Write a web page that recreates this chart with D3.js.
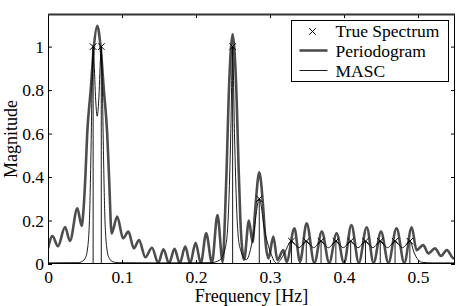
<!DOCTYPE html>
<html>
<head>
<meta charset="utf-8">
<script src="https://cdn.jsdelivr.net/npm/d3@7"></script>
<style>
  body { margin: 0; background: #fff; }
  svg text { font-family: "Liberation Serif", "Times New Roman", Times, "DejaVu Serif", serif; }
</style>
</head>
<body>
<div id="chart"></div>
<script>
// true spectrum (stems with x markers)
const trueFreq = [0.061, 0.072, 0.2495, 0.2855, 0.329, 0.349, 0.369, 0.389, 0.409, 0.429, 0.449, 0.469, 0.489];
const trueMag = [1.0, 1.0, 1.0, 0.3, 0.105, 0.105, 0.105, 0.105, 0.105, 0.105, 0.105, 0.105, 0.105];

const periodogramFreq = [0, 0.006, 0.0135, 0.023, 0.0297, 0.0396, 0.0455, 0.048, 0.0505, 0.053, 0.0577, 0.062, 0.0666,
  0.071, 0.0755, 0.080, 0.0825, 0.086, 0.0935, 0.1015, 0.1086, 0.116, 0.123, 0.1315, 0.1405, 0.149, 0.156, 0.1635,
  0.171, 0.178, 0.1855, 0.192, 0.1995, 0.2065, 0.2138, 0.2215, 0.229, 0.236, 0.239, 0.2415, 0.244, 0.247, 0.2495,
  0.252, 0.255, 0.2575, 0.26, 0.263, 0.265, 0.2715, 0.2765, 0.28, 0.2855, 0.291, 0.294, 0.298, 0.3045, 0.310, 0.318,
  0.3225, 0.333, 0.3405, 0.3495, 0.36, 0.37, 0.38, 0.39, 0.40, 0.41, 0.42, 0.4307, 0.44, 0.45, 0.46, 0.471, 0.4815,
  0.4915, 0.498, 0.507, 0.514, 0.523, 0.531, 0.539, 0.548, 0.55];
const periodogramMag = [0.072, 0.128, 0.082, 0.17, 0.106, 0.256, 0.175, 0.25, 0.4, 0.6, 0.8, 1.0, 1.096,
  1.0, 0.8, 0.6, 0.4, 0.14, 0.218, 0.118, 0.149, 0.072, 0.11, 0.031, 0.075, 0.005, 0.068, 0.003,
  0.07, 0.003, 0.08, 0.003, 0.097, 0.003, 0.141, 0.005, 0.225, 0.01, 0.2, 0.45, 0.75, 0.98, 1.057,
  0.98, 0.75, 0.45, 0.2, 0.05, 0.02, 0.2, 0.1, 0.25, 0.422, 0.25, 0.1, 0.026, 0.126, 0.018, 0.064,
  0.01, 0.164, 0.01, 0.187, 0.005, 0.149, 0.005, 0.141, 0.005, 0.179, 0.005, 0.169, 0.005, 0.149, 0.005, 0.164, 0.005,
  0.169, 0.064, 0.087, 0.049, 0.072, 0.037, 0.064, 0.026, 0.03];

// MASC estimate
const mascFreq = [0, 0.03, 0.04, 0.045, 0.05, 0.053, 0.056, 0.058, 0.06, 0.061, 0.062, 0.0645, 0.0665, 0.0685, 0.071,
  0.072, 0.073, 0.075, 0.077, 0.080, 0.083, 0.088, 0.095, 0.15, 0.22, 0.232, 0.24, 0.244, 0.247, 0.2495, 0.252, 0.255,
  0.259, 0.268, 0.277, 0.2855, 0.293, 0.301, 0.309, 0.318, 0.329, 0.339, 0.349, 0.359, 0.369, 0.379, 0.389, 0.399,
  0.409, 0.419, 0.429, 0.439, 0.449, 0.459, 0.469, 0.479, 0.489, 0.495, 0.5, 0.505, 0.52, 0.55];
const mascMag = [0.005, 0.006, 0.006, 0.01, 0.025, 0.06, 0.2, 0.5, 0.9, 1.0, 0.95, 0.75, 0.68, 0.75, 0.95,
  1.0, 0.9, 0.5, 0.2, 0.06, 0.025, 0.01, 0.006, 0.005, 0.006, 0.018, 0.08, 0.25, 0.6, 1.0, 0.6, 0.25,
  0.08, 0.02, 0.12, 0.3, 0.15, 0.05, 0.003, 0.04, 0.105, 0.075, 0.105, 0.075, 0.105, 0.075, 0.105, 0.075,
  0.105, 0.075, 0.105, 0.075, 0.105, 0.075, 0.105, 0.075, 0.105, 0.05, 0.02, 0.008, 0.005, 0.005];

const xTicks = [0, 0.1, 0.2, 0.3, 0.4, 0.5];
const yTicks = [0, 0.2, 0.4, 0.6, 0.8, 1];
const legendLabels = ['True Spectrum', 'Periodogram', 'MASC'];

const serif = '"Liberation Serif", "Times New Roman", Times, "DejaVu Serif", serif';
const width = 465, height = 306;
const margin = {top: 14, right: 10, bottom: 42, left: 48};
const plotW = width - margin.left - margin.right;
const plotH = height - margin.top - margin.bottom;

const svg = d3.select('#chart').append('svg')
    .attr('width', width)
    .attr('height', height)
    .style('display', 'block');

const x = d3.scaleLinear().domain([0, 0.55]).range([margin.left, margin.left + plotW]);
const y = d3.scaleLinear().domain([0, 1.15]).range([margin.top + plotH, margin.top]);

svg.append('clipPath').attr('id', 'plot-clip')
    .append('rect')
    .attr('x', margin.left).attr('y', margin.top)
    .attr('width', plotW).attr('height', plotH);

const plot = svg.append('g').attr('clip-path', 'url(#plot-clip)');

const periodogram = periodogramFreq.map((f, i) => [f, periodogramMag[i]]);
const masc = mascFreq.map((f, i) => [f, mascMag[i]]);

const line = d3.line()
    .x(d => x(d[0]))
    .y(d => y(d[1]))
    .curve(d3.curveMonotoneX);

plot.append('path')
    .datum(periodogram)
    .attr('d', line)
    .attr('fill', 'none')
    .attr('stroke', '#4d4d4d')
    .attr('stroke-width', 2.6)
    .attr('stroke-linejoin', 'round');

// stems of the true spectrum
plot.selectAll('.stem')
    .data(trueFreq)
    .join('line')
    .attr('class', 'stem')
    .attr('x1', d => x(d)).attr('x2', d => x(d))
    .attr('y1', y(0))
    .attr('y2', (d, i) => y(trueMag[i]))
    .attr('stroke', '#000')
    .attr('stroke-width', 0.9);

plot.append('path')
    .datum(masc)
    .attr('d', line)
    .attr('fill', 'none')
    .attr('stroke', '#000')
    .attr('stroke-width', 0.9);

const cross = d3.symbol().type(d3.symbolX).size(30);
plot.selectAll('.marker')
    .data(trueFreq)
    .join('path')
    .attr('class', 'marker')
    .attr('transform', (d, i) => `translate(${x(d)},${y(trueMag[i])})`)
    .attr('d', cross)
    .attr('fill', 'none')
    .attr('stroke', '#000')
    .attr('stroke-width', 1);

// axes, ticks pointing inward
const fmt = d => d3.format('~g')(d);
const xAxis = svg.append('g')
    .attr('transform', `translate(0,${margin.top + plotH})`)
    .call(d3.axisBottom(x).tickValues(xTicks).tickSize(-4).tickPadding(7).tickFormat(fmt));
const yAxis = svg.append('g')
    .attr('transform', `translate(${margin.left},0)`)
    .call(d3.axisLeft(y).tickValues(yTicks).tickSize(-4).tickPadding(4).tickFormat(fmt));
const xTop = svg.append('g')
    .attr('transform', `translate(0,${margin.top})`)
    .call(d3.axisTop(x).tickValues(xTicks).tickSize(-4).tickFormat(''));
const yRight = svg.append('g')
    .attr('transform', `translate(${margin.left + plotW},0)`)
    .call(d3.axisRight(y).tickValues(yTicks).tickSize(-4).tickFormat(''));

[xAxis, yAxis, xTop, yRight].forEach(g => {
    g.attr('font-family', serif).attr('font-size', 17.5);
    g.select('.domain').remove();
    g.selectAll('line').attr('stroke', '#000');
    g.selectAll('text').attr('fill', '#000');
});

svg.append('rect')
    .attr('x', margin.left + 0.5).attr('y', margin.top + 0.5)
    .attr('width', plotW - 1).attr('height', plotH - 1)
    .attr('fill', 'none')
    .attr('stroke', '#000')
    .attr('stroke-width', 1);
svg.append('line')
    .attr('x1', margin.left).attr('x2', margin.left + plotW)
    .attr('y1', margin.top + 0.5).attr('y2', margin.top + 0.5)
    .attr('stroke', '#333')
    .attr('stroke-width', 2);

svg.append('text')
    .attr('x', margin.left + plotW / 2)
    .attr('y', 302)
    .attr('text-anchor', 'middle')
    .attr('font-family', serif)
    .attr('font-size', 18)
    .text('Frequency [Hz]');

svg.append('text')
    .attr('transform', `translate(17,${margin.top + plotH / 2}) rotate(-90)`)
    .attr('text-anchor', 'middle')
    .attr('font-family', serif)
    .attr('font-size', 18)
    .text('Magnitude');

// legend
const legend = svg.append('g').attr('transform', 'translate(291.5,20.5)');
legend.append('rect')
    .attr('width', 157)
    .attr('height', 61)
    .attr('fill', '#fff')
    .attr('stroke', '#000');

legend.append('path')
    .attr('transform', 'translate(21,11)')
    .attr('d', cross)
    .attr('fill', 'none')
    .attr('stroke', '#000');
legend.append('line')
    .attr('x1', 8).attr('x2', 36).attr('y1', 30).attr('y2', 30)
    .attr('stroke', '#4d4d4d').attr('stroke-width', 2.6);
legend.append('line')
    .attr('x1', 8).attr('x2', 36).attr('y1', 50).attr('y2', 50)
    .attr('stroke', '#000').attr('stroke-width', 0.9);

legend.selectAll('.label')
    .data(legendLabels)
    .join('text')
    .attr('class', 'label')
    .attr('x', 44)
    .attr('y', (d, i) => 16 + i * 20)
    .attr('font-family', serif)
    .attr('font-size', 17.5)
    .text(d => d);
</script>
</body>
</html>
